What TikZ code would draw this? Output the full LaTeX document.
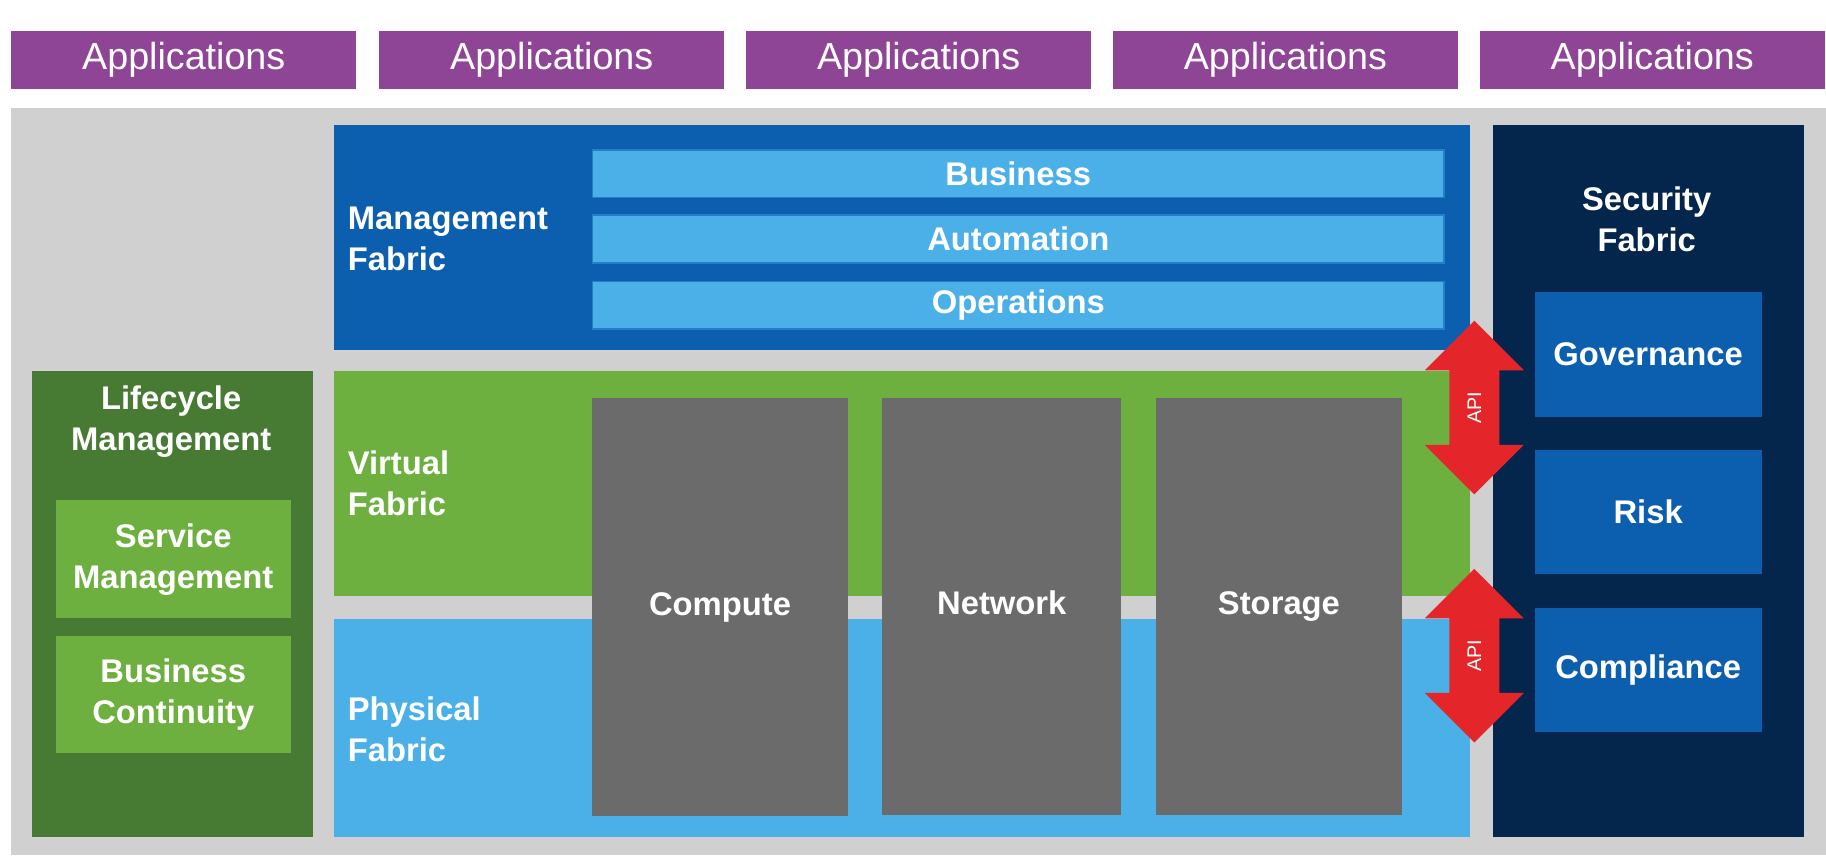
\documentclass[tikz,border=0pt]{standalone}
\usepackage{fontspec}
\setmainfont{Liberation Sans}
\usetikzlibrary{shapes.arrows}
\definecolor{appPurple}{HTML}{8F4595}
\definecolor{bgGray}{HTML}{D0D0D0}
\definecolor{mgmtBlue}{HTML}{0C5FAF}
\definecolor{lightBlue}{HTML}{4BB0E8}
\definecolor{virtGreen}{HTML}{6EB040}
\definecolor{darkGreen}{HTML}{477A32}
\definecolor{navy}{HTML}{04264D}
\definecolor{boxGray}{HTML}{6B6B6B}
\definecolor{apiRed}{HTML}{E4262A}
\tikzset{
    x=0.01cm, y=-0.01cm,
    box/.style={draw=none, inner sep=0pt, anchor=north west, text=white, font=\bfseries\fontsize{8}{10}\selectfont, align=center}, % plain filled block
    label/.style={text=white, font=\bfseries\fontsize{8}{10}\selectfont, align=left, anchor=west, inner sep=0pt}, % left aligned fabric title
    api/.style={double arrow, fill=apiRed, rotate=90, minimum height=1.49cm, inner xsep=0pt, inner ysep=0.15cm, double arrow head extend=0.21cm, text=white, font=\fontsize{4.8}{5}\selectfont},
}
\begin{document}
\begin{tikzpicture}
\useasboundingbox (0,0) rectangle (1568,735);
% applications row
\foreach \i/\x in {1/9,2/325,3/640,4/955,5/1270}
  \node[box, fill=appPurple, minimum width=2.96cm, minimum height=0.5cm, font=\fontsize{9.2}{10}\selectfont] (app\i) at (\x,26) {Applications};
\node[box, fill=bgGray, minimum width=15.57cm, minimum height=6.41cm] (bg) at (9,92) {};
% fabrics
\node[box, fill=mgmtBlue, minimum width=9.75cm, minimum height=1.93cm] (mgmt) at (286,107) {};
\node[box, fill=virtGreen, minimum width=9.75cm, minimum height=1.93cm] (virt) at (286,318) {};
\node[box, fill=lightBlue, minimum width=9.75cm, minimum height=1.87cm] (phys) at (286,531) {};
\node[label] (mgmtL) at (298,205) {Management\\Fabric};
\node[label] (virtL) at (298,415) {Virtual\\Fabric};
\node[label] (physL) at (298,626) {Physical\\Fabric};
\node[box, fill=lightBlue, draw=mgmtBlue!60!lightBlue, minimum width=7.31cm, minimum height=0.41cm] (business) at (508,128) {Business};
\node[box, fill=lightBlue, draw=mgmtBlue!60!lightBlue, minimum width=7.31cm, minimum height=0.41cm] (automation) at (508,184) {Automation};
\node[box, fill=lightBlue, draw=mgmtBlue!60!lightBlue, minimum width=7.31cm, minimum height=0.41cm] (operations) at (508,241) {Operations};
% resources
\node[box, fill=boxGray, minimum width=2.19cm, minimum height=3.59cm] (compute) at (508,341) {\strut Compute};
\node[box, fill=boxGray, minimum width=2.05cm, minimum height=3.58cm] (network) at (757,341) {\strut Network};
\node[box, fill=boxGray, minimum width=2.11cm, minimum height=3.58cm] (storage) at (992,341) {\strut Storage};
% lifecycle
\node[box, fill=darkGreen, minimum width=2.41cm, minimum height=4.00cm] (life) at (27,318) {};
\node[text=white, font=\bfseries\fontsize{8}{10}\selectfont, align=center] (lifeL) at (147,362) {Lifecycle\\Management};
\node[box, fill=virtGreen, minimum width=2.02cm, minimum height=1.01cm] (svc) at (47,429) {Service\\Management};
\node[box, fill=virtGreen, minimum width=2.02cm, minimum height=1.01cm] (bc) at (47,545) {Business\\Continuity};
% security
\node[box, fill=navy, minimum width=2.67cm, minimum height=6.11cm] (sec) at (1281,107) {};
\node[text=white, font=\bfseries\fontsize{8}{10}\selectfont, align=center] (secL) at (1414,188) {Security\\Fabric};
\node[box, fill=mgmtBlue, minimum width=1.95cm, minimum height=1.07cm] (gov) at (1317,250) {Governance};
\node[box, fill=mgmtBlue, minimum width=1.95cm, minimum height=1.06cm] (risk) at (1317,386) {Risk};
\node[box, fill=mgmtBlue, minimum width=1.95cm, minimum height=1.07cm] (comp) at (1317,521) {Compliance};
% api arrows
\node[api] (api1) at (1266,350) {API};
\node[api] (api2) at (1266,563) {API};
\end{tikzpicture}
\end{document}
